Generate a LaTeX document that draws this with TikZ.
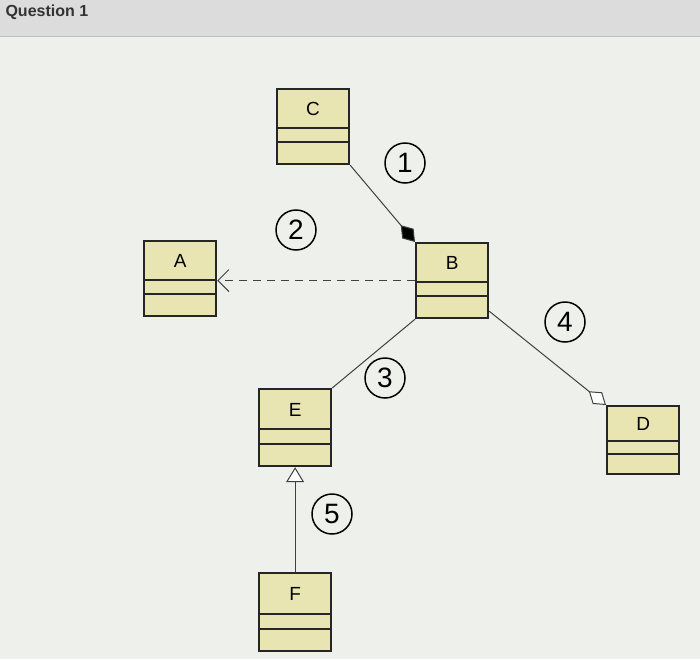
\documentclass[tikz,border=0pt]{standalone}
\usepackage{fontspec}
\setmainfont{Liberation Sans}
\usetikzlibrary{arrows.meta,calc}
\definecolor{boxfill}{HTML}{E9E5B3}
\definecolor{bg}{HTML}{EEF0EC}
\definecolor{band}{HTML}{DCDCDC}
\tikzset{
  cls/.style={draw=black!85, line width=2.2pt, fill=boxfill, minimum width=72pt, inner sep=0pt},
  lnk/.style={draw=black!75, line width=1pt},
  num/.style={draw=black, line width=1.5pt, circle, minimum size=40pt, inner sep=0pt, font=\fontsize{28}{28}\selectfont}
}
\begin{document}
\begin{tikzpicture}[x=1pt,y=-1pt]
\useasboundingbox (0,0) rectangle (700,659);
\fill[bg] (0,0) rectangle (700,659);
\fill[band] (0,0) rectangle (700,36);
\draw[black!25] (0,36) -- (700,36);
\node[anchor=west, font=\fontsize{16}{16}\selectfont\bfseries, text=black!80] (q) at (2,12) {Question 1};
% classes
\foreach \n/\t/\x/\y/\h in {C/C/276/88/75, A/A/143/240/75, B/B/415/242/75, E/E/258/388/77, D/D/606/405/68, F/F/258/572/78}{
  \node[cls, minimum height=\h, anchor=north west] (\n) at (\x,\y) {};
  \node[font=\fontsize{19}{19}\selectfont] (\n l) at ($(\n.north)+(0,0.28*\h)$) {\t};
  \draw[black!85, line width=2pt] ($(\n.north west)+(0,0.535*\h)$) -- ($(\n.north east)+(0,0.535*\h)$);
  \draw[black!85, line width=2pt] ($(\n.north west)+(0,0.725*\h)$) -- ($(\n.north east)+(0,0.725*\h)$);
}
% connectors
\draw[lnk, -{Diamond[fill=black, length=22pt, width=15pt]}] (C.south east) -- (B.north west);
\draw[lnk, dash pattern=on 8pt off 6pt, -{Straight Barb[length=11pt, width=22pt]}] (B.west) -- (B.west -| A.east);
\draw[lnk] (B.south west) -- (E.north east);
\coordinate (bd) at ($(B.south east)+(0,-8)$);
\draw[lnk, -{Diamond[open, fill=white, length=22pt, width=15pt]}] (bd) -- (D.north west);
\draw[lnk, -{Triangle[open, fill=white, length=15pt, width=18pt]}] (F.north) -- (E.south);
% numbers
\node[num] (n1) at (405,163) {1};
\node[num] (n2) at (296,230) {2};
\node[num] (n3) at (385,378) {3};
\node[num] (n4) at (565,322) {4};
\node[num] (n5) at (332,514) {5};
\end{tikzpicture}
\end{document}
